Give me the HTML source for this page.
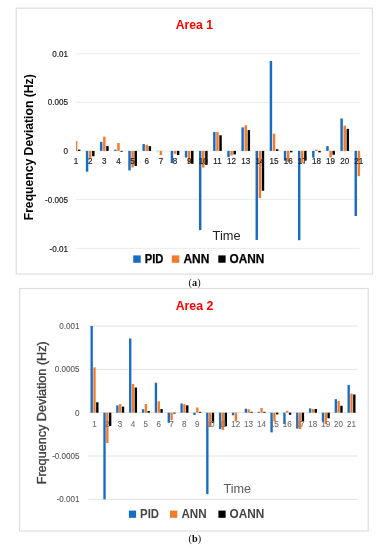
<!DOCTYPE html>
<html><head><meta charset="utf-8"><title>Frequency deviation</title>
<style>html,body{margin:0;padding:0;background:#fff}svg{display:block}text{font-family:"Liberation Sans",sans-serif}.ser{font-family:"Liberation Serif",serif}</style></head><body>
<svg width="383" height="550" viewBox="0 0 383 550">
<rect width="383" height="550" fill="#fff"/>
<rect x="16.2" y="8.2" width="356.3" height="265.9" fill="#fff" stroke="#dedede" stroke-width="1.2"/>
<clipPath id="cp1"><rect x="75.9" y="40" width="284.3" height="225"/></clipPath>
<line x1="75.8" x2="359.5" y1="53.8" y2="53.8" stroke="#e9e9e9" stroke-width="0.9"/>
<text transform="translate(68,56.9) scale(0.86,1)" font-size="9.4" text-anchor="end" fill="#222" stroke="#222" stroke-width="0.2">0.01</text>
<line x1="75.8" x2="359.5" y1="102.35" y2="102.35" stroke="#e9e9e9" stroke-width="0.9"/>
<text transform="translate(68,105.45) scale(0.86,1)" font-size="9.4" text-anchor="end" fill="#222" stroke="#222" stroke-width="0.2">0.005</text>
<line x1="75.8" x2="359.5" y1="150.9" y2="150.9" stroke="#e9e9e9" stroke-width="0.9"/>
<text transform="translate(68,154) scale(0.86,1)" font-size="9.4" text-anchor="end" fill="#222" stroke="#222" stroke-width="0.2">0</text>
<line x1="75.8" x2="359.5" y1="199.45" y2="199.45" stroke="#e9e9e9" stroke-width="0.9"/>
<text transform="translate(68,202.55) scale(0.86,1)" font-size="9.4" text-anchor="end" fill="#222" stroke="#222" stroke-width="0.2">-0.005</text>
<line x1="75.8" x2="359.5" y1="248.4" y2="248.4" stroke="#e9e9e9" stroke-width="0.9"/>
<text transform="translate(68,251.5) scale(0.86,1)" font-size="9.4" text-anchor="end" fill="#222" stroke="#222" stroke-width="0.2">-0.01</text>
<g clip-path="url(#cp1)">
<rect x="74.82" y="141" width="2.45" height="9.9" fill="#f47b2b"/>
<rect x="77.92" y="149.64" width="2.45" height="1.26" fill="#000000"/>
<rect x="85.86" y="150.9" width="2.45" height="20.78" fill="#176cc6"/>
<rect x="88.96" y="150.9" width="2.45" height="6.99" fill="#f47b2b"/>
<rect x="92.06" y="150.9" width="2.45" height="5.34" fill="#000000"/>
<rect x="100" y="141.87" width="2.45" height="9.03" fill="#176cc6"/>
<rect x="103.1" y="136.63" width="2.45" height="14.27" fill="#f47b2b"/>
<rect x="106.2" y="146.05" width="2.45" height="4.86" fill="#000000"/>
<rect x="114.14" y="149.64" width="2.45" height="1.26" fill="#176cc6"/>
<rect x="117.24" y="143.03" width="2.45" height="7.87" fill="#f47b2b"/>
<rect x="120.34" y="150.9" width="2.45" height="0.78" fill="#000000"/>
<rect x="128.28" y="150.9" width="2.45" height="19.52" fill="#176cc6"/>
<rect x="131.38" y="150.9" width="2.45" height="16.51" fill="#f47b2b"/>
<rect x="134.48" y="150.9" width="2.45" height="15.05" fill="#000000"/>
<rect x="142.42" y="144.1" width="2.45" height="6.8" fill="#176cc6"/>
<rect x="145.52" y="144.69" width="2.45" height="6.21" fill="#f47b2b"/>
<rect x="148.62" y="146.14" width="2.45" height="4.76" fill="#000000"/>
<rect x="156.56" y="150.9" width="2.45" height="0.29" fill="#176cc6"/>
<rect x="159.66" y="150.9" width="2.45" height="4.18" fill="#f47b2b"/>
<rect x="170.7" y="150.9" width="2.45" height="12.23" fill="#176cc6"/>
<rect x="173.8" y="150.9" width="2.45" height="2.91" fill="#f47b2b"/>
<rect x="176.9" y="150.9" width="2.45" height="4.18" fill="#000000"/>
<rect x="184.84" y="150.9" width="2.45" height="6.7" fill="#176cc6"/>
<rect x="187.94" y="150.9" width="2.45" height="11.85" fill="#f47b2b"/>
<rect x="191.04" y="150.9" width="2.45" height="12.91" fill="#000000"/>
<rect x="198.98" y="150.9" width="2.45" height="79.23" fill="#176cc6"/>
<rect x="202.08" y="150.9" width="2.45" height="16.6" fill="#f47b2b"/>
<rect x="205.18" y="150.9" width="2.45" height="13.98" fill="#000000"/>
<rect x="213.12" y="131.97" width="2.45" height="18.93" fill="#176cc6"/>
<rect x="216.22" y="131.97" width="2.45" height="18.93" fill="#f47b2b"/>
<rect x="219.32" y="135.27" width="2.45" height="15.63" fill="#000000"/>
<rect x="227.26" y="150.9" width="2.45" height="6.21" fill="#176cc6"/>
<rect x="230.36" y="150.9" width="2.45" height="4.56" fill="#f47b2b"/>
<rect x="233.46" y="150.9" width="2.45" height="3.5" fill="#000000"/>
<rect x="241.4" y="127.4" width="2.45" height="23.5" fill="#176cc6"/>
<rect x="244.5" y="125.27" width="2.45" height="25.63" fill="#f47b2b"/>
<rect x="247.6" y="130.12" width="2.45" height="20.78" fill="#000000"/>
<rect x="255.54" y="150.9" width="2.45" height="89.04" fill="#176cc6"/>
<rect x="258.64" y="150.9" width="2.45" height="47.29" fill="#f47b2b"/>
<rect x="261.74" y="150.9" width="2.45" height="39.81" fill="#000000"/>
<rect x="269.68" y="60.99" width="2.45" height="89.91" fill="#176cc6"/>
<rect x="272.78" y="133.62" width="2.45" height="17.28" fill="#f47b2b"/>
<rect x="275.88" y="149.25" width="2.45" height="1.65" fill="#000000"/>
<rect x="283.82" y="150.9" width="2.45" height="9.71" fill="#176cc6"/>
<rect x="286.92" y="150.9" width="2.45" height="10.78" fill="#f47b2b"/>
<rect x="290.02" y="150.9" width="2.45" height="1.46" fill="#000000"/>
<rect x="297.96" y="150.9" width="2.45" height="89.33" fill="#176cc6"/>
<rect x="301.06" y="150.9" width="2.45" height="11.85" fill="#f47b2b"/>
<rect x="304.16" y="150.9" width="2.45" height="9.71" fill="#000000"/>
<rect x="312.1" y="150.9" width="2.45" height="6.7" fill="#176cc6"/>
<rect x="315.2" y="149.64" width="2.45" height="1.26" fill="#f47b2b"/>
<rect x="318.3" y="150.9" width="2.45" height="1.46" fill="#000000"/>
<rect x="326.24" y="146.14" width="2.45" height="4.76" fill="#176cc6"/>
<rect x="329.34" y="150.9" width="2.45" height="6.51" fill="#f47b2b"/>
<rect x="332.44" y="150.9" width="2.45" height="3.88" fill="#000000"/>
<rect x="340.38" y="118.47" width="2.45" height="32.43" fill="#176cc6"/>
<rect x="343.48" y="125.65" width="2.45" height="25.25" fill="#f47b2b"/>
<rect x="346.58" y="128.86" width="2.45" height="22.04" fill="#000000"/>
<rect x="354.52" y="150.9" width="2.45" height="65.06" fill="#176cc6"/>
<rect x="357.62" y="150.9" width="2.45" height="25.25" fill="#f47b2b"/>
<rect x="360.72" y="150.9" width="2.45" height="19.42" fill="#000000"/>
</g>
<text transform="translate(76.04,164.2) scale(0.86,1)" font-size="9.4" text-anchor="middle" fill="#222" stroke="#222" stroke-width="0.2">1</text>
<text transform="translate(90.18,164.2) scale(0.86,1)" font-size="9.4" text-anchor="middle" fill="#222" stroke="#222" stroke-width="0.2">2</text>
<text transform="translate(104.32,164.2) scale(0.86,1)" font-size="9.4" text-anchor="middle" fill="#222" stroke="#222" stroke-width="0.2">3</text>
<text transform="translate(118.46,164.2) scale(0.86,1)" font-size="9.4" text-anchor="middle" fill="#222" stroke="#222" stroke-width="0.2">4</text>
<text transform="translate(132.6,164.2) scale(0.86,1)" font-size="9.4" text-anchor="middle" fill="#222" stroke="#222" stroke-width="0.2">5</text>
<text transform="translate(146.74,164.2) scale(0.86,1)" font-size="9.4" text-anchor="middle" fill="#222" stroke="#222" stroke-width="0.2">6</text>
<text transform="translate(160.88,164.2) scale(0.86,1)" font-size="9.4" text-anchor="middle" fill="#222" stroke="#222" stroke-width="0.2">7</text>
<text transform="translate(175.02,164.2) scale(0.86,1)" font-size="9.4" text-anchor="middle" fill="#222" stroke="#222" stroke-width="0.2">8</text>
<text transform="translate(189.16,164.2) scale(0.86,1)" font-size="9.4" text-anchor="middle" fill="#222" stroke="#222" stroke-width="0.2">9</text>
<text transform="translate(203.3,164.2) scale(0.86,1)" font-size="9.4" text-anchor="middle" fill="#222" stroke="#222" stroke-width="0.2">10</text>
<text transform="translate(217.44,164.2) scale(0.86,1)" font-size="9.4" text-anchor="middle" fill="#222" stroke="#222" stroke-width="0.2">11</text>
<text transform="translate(231.58,164.2) scale(0.86,1)" font-size="9.4" text-anchor="middle" fill="#222" stroke="#222" stroke-width="0.2">12</text>
<text transform="translate(245.72,164.2) scale(0.86,1)" font-size="9.4" text-anchor="middle" fill="#222" stroke="#222" stroke-width="0.2">13</text>
<text transform="translate(259.86,164.2) scale(0.86,1)" font-size="9.4" text-anchor="middle" fill="#222" stroke="#222" stroke-width="0.2">14</text>
<text transform="translate(274,164.2) scale(0.86,1)" font-size="9.4" text-anchor="middle" fill="#222" stroke="#222" stroke-width="0.2">15</text>
<text transform="translate(288.14,164.2) scale(0.86,1)" font-size="9.4" text-anchor="middle" fill="#222" stroke="#222" stroke-width="0.2">16</text>
<text transform="translate(302.28,164.2) scale(0.86,1)" font-size="9.4" text-anchor="middle" fill="#222" stroke="#222" stroke-width="0.2">17</text>
<text transform="translate(316.42,164.2) scale(0.86,1)" font-size="9.4" text-anchor="middle" fill="#222" stroke="#222" stroke-width="0.2">18</text>
<text transform="translate(330.56,164.2) scale(0.86,1)" font-size="9.4" text-anchor="middle" fill="#222" stroke="#222" stroke-width="0.2">19</text>
<text transform="translate(344.7,164.2) scale(0.86,1)" font-size="9.4" text-anchor="middle" fill="#222" stroke="#222" stroke-width="0.2">20</text>
<text transform="translate(358.84,164.2) scale(0.86,1)" font-size="9.4" text-anchor="middle" fill="#222" stroke="#222" stroke-width="0.2">21</text>
<text x="194.3" y="28.9" font-size="12.2" font-weight="bold" text-anchor="middle" fill="#ff0000">Area 1</text>
<text transform="translate(33,220.3) rotate(-90)" font-size="12" font-weight="bold" fill="#000" textLength="146" lengthAdjust="spacingAndGlyphs">Frequency Deviation (Hz)</text>
<text x="212.6" y="240" font-size="12.8" fill="#222" textLength="28" lengthAdjust="spacingAndGlyphs">Time</text>
<rect x="133.2" y="255.4" width="7.5" height="7.4" fill="#176cc6"/>
<text x="144.8" y="263.4" font-size="12.2" font-weight="bold" fill="#000" stroke="#000" stroke-width="0.25" textLength="18.6" lengthAdjust="spacingAndGlyphs">PID</text>
<rect x="171.8" y="255.4" width="7.5" height="7.4" fill="#f47b2b"/>
<text x="183.4" y="263.4" font-size="12.2" font-weight="bold" fill="#000" stroke="#000" stroke-width="0.25" textLength="25.9" lengthAdjust="spacingAndGlyphs">ANN</text>
<rect x="218.3" y="255.4" width="7.3" height="7.3" fill="#000000"/>
<text x="229.5" y="263.4" font-size="12.2" font-weight="bold" fill="#000" stroke="#000" stroke-width="0.25" textLength="34.8" lengthAdjust="spacingAndGlyphs">OANN</text>
<text class="ser" x="194.6" y="286" font-size="10.3" text-anchor="middle" fill="#111">(<tspan font-weight="bold">a</tspan>)</text>
<rect x="19.6" y="288.5" width="348.6" height="242.5" fill="#fff" stroke="#dedede" stroke-width="1.2"/>
<line x1="88.5" x2="357.6" y1="326.04" y2="326.04" stroke="#e2e2e2" stroke-width="1"/>
<text transform="translate(79.6,329.14) scale(0.88,1)" font-size="9.2" text-anchor="end" fill="#5a5a5a" stroke="#5a5a5a" stroke-width="0.12">0.001</text>
<line x1="88.5" x2="357.6" y1="369.37" y2="369.37" stroke="#e2e2e2" stroke-width="1"/>
<text transform="translate(79.6,372.47) scale(0.88,1)" font-size="9.2" text-anchor="end" fill="#5a5a5a" stroke="#5a5a5a" stroke-width="0.12">0.0005</text>
<line x1="88.5" x2="357.6" y1="412.7" y2="412.7" stroke="#e2e2e2" stroke-width="1"/>
<text transform="translate(79.6,415.8) scale(0.88,1)" font-size="9.2" text-anchor="end" fill="#5a5a5a" stroke="#5a5a5a" stroke-width="0.12">0</text>
<line x1="88.5" x2="357.6" y1="456.03" y2="456.03" stroke="#e2e2e2" stroke-width="1"/>
<text transform="translate(79.6,459.13) scale(0.88,1)" font-size="9.2" text-anchor="end" fill="#5a5a5a" stroke="#5a5a5a" stroke-width="0.12">-0.0005</text>
<line x1="88.5" x2="357.6" y1="499.36" y2="499.36" stroke="#e2e2e2" stroke-width="1"/>
<text transform="translate(79.6,502.46) scale(0.88,1)" font-size="9.2" text-anchor="end" fill="#5a5a5a" stroke="#5a5a5a" stroke-width="0.12">-0.001</text>
<rect x="90.5" y="326.04" width="2.35" height="86.66" fill="#176cc6"/>
<rect x="93.32" y="367.38" width="2.35" height="45.32" fill="#f47b2b"/>
<rect x="96.14" y="402.3" width="2.35" height="10.4" fill="#000000"/>
<rect x="103.35" y="412.7" width="2.35" height="86.66" fill="#176cc6"/>
<rect x="106.17" y="412.7" width="2.35" height="30.33" fill="#f47b2b"/>
<rect x="108.99" y="412.7" width="2.35" height="13.35" fill="#000000"/>
<rect x="116.2" y="405.33" width="2.35" height="7.37" fill="#176cc6"/>
<rect x="119.02" y="404.03" width="2.35" height="8.67" fill="#f47b2b"/>
<rect x="121.84" y="406.63" width="2.35" height="6.07" fill="#000000"/>
<rect x="129.05" y="338.43" width="2.35" height="74.27" fill="#176cc6"/>
<rect x="131.87" y="384.1" width="2.35" height="28.6" fill="#f47b2b"/>
<rect x="134.69" y="387.57" width="2.35" height="25.13" fill="#000000"/>
<rect x="141.9" y="409.23" width="2.35" height="3.47" fill="#176cc6"/>
<rect x="144.72" y="404.03" width="2.35" height="8.67" fill="#f47b2b"/>
<rect x="147.54" y="410.97" width="2.35" height="1.73" fill="#000000"/>
<rect x="154.75" y="382.72" width="2.35" height="29.98" fill="#176cc6"/>
<rect x="157.57" y="401.26" width="2.35" height="11.44" fill="#f47b2b"/>
<rect x="160.39" y="409.06" width="2.35" height="3.64" fill="#000000"/>
<rect x="167.6" y="412.7" width="2.35" height="10.14" fill="#176cc6"/>
<rect x="170.42" y="412.7" width="2.35" height="7.54" fill="#f47b2b"/>
<rect x="173.24" y="412.7" width="2.35" height="0.87" fill="#000000"/>
<rect x="180.45" y="403.43" width="2.35" height="9.27" fill="#176cc6"/>
<rect x="183.27" y="404.21" width="2.35" height="8.49" fill="#f47b2b"/>
<rect x="186.09" y="405.33" width="2.35" height="7.37" fill="#000000"/>
<rect x="193.3" y="412.7" width="2.35" height="2.34" fill="#176cc6"/>
<rect x="196.12" y="407.5" width="2.35" height="5.2" fill="#f47b2b"/>
<rect x="198.94" y="411.83" width="2.35" height="0.87" fill="#000000"/>
<rect x="206.15" y="412.7" width="2.35" height="81.46" fill="#176cc6"/>
<rect x="208.97" y="412.7" width="2.35" height="14.39" fill="#f47b2b"/>
<rect x="211.79" y="412.7" width="2.35" height="10.14" fill="#000000"/>
<rect x="219" y="412.7" width="2.35" height="16.47" fill="#176cc6"/>
<rect x="221.82" y="412.7" width="2.35" height="17.33" fill="#f47b2b"/>
<rect x="224.64" y="412.7" width="2.35" height="13.35" fill="#000000"/>
<rect x="231.85" y="412.7" width="2.35" height="2.6" fill="#176cc6"/>
<rect x="234.67" y="412.7" width="2.35" height="8.67" fill="#f47b2b"/>
<rect x="244.7" y="408.71" width="2.35" height="3.99" fill="#176cc6"/>
<rect x="247.52" y="409.23" width="2.35" height="3.47" fill="#f47b2b"/>
<rect x="250.34" y="411.83" width="2.35" height="0.87" fill="#000000"/>
<rect x="257.55" y="411.83" width="2.35" height="0.87" fill="#176cc6"/>
<rect x="260.37" y="408.02" width="2.35" height="4.68" fill="#f47b2b"/>
<rect x="263.19" y="411.83" width="2.35" height="0.87" fill="#000000"/>
<rect x="270.4" y="412.7" width="2.35" height="19.67" fill="#176cc6"/>
<rect x="273.22" y="412.7" width="2.35" height="8.67" fill="#f47b2b"/>
<rect x="276.04" y="412.7" width="2.35" height="1.73" fill="#000000"/>
<rect x="283.25" y="412.7" width="2.35" height="11.27" fill="#176cc6"/>
<rect x="286.07" y="410.79" width="2.35" height="1.91" fill="#f47b2b"/>
<rect x="288.89" y="412.7" width="2.35" height="2.08" fill="#000000"/>
<rect x="296.1" y="412.7" width="2.35" height="15.95" fill="#176cc6"/>
<rect x="298.92" y="412.7" width="2.35" height="16.47" fill="#f47b2b"/>
<rect x="301.74" y="412.7" width="2.35" height="8.67" fill="#000000"/>
<rect x="308.95" y="408.37" width="2.35" height="4.33" fill="#176cc6"/>
<rect x="311.77" y="408.97" width="2.35" height="3.73" fill="#f47b2b"/>
<rect x="314.59" y="408.97" width="2.35" height="3.73" fill="#000000"/>
<rect x="321.8" y="412.7" width="2.35" height="9.1" fill="#176cc6"/>
<rect x="324.62" y="412.7" width="2.35" height="11.53" fill="#f47b2b"/>
<rect x="327.44" y="412.7" width="2.35" height="5.63" fill="#000000"/>
<rect x="334.65" y="399.18" width="2.35" height="13.52" fill="#176cc6"/>
<rect x="337.47" y="400.91" width="2.35" height="11.79" fill="#f47b2b"/>
<rect x="340.29" y="405.77" width="2.35" height="6.93" fill="#000000"/>
<rect x="347.5" y="384.97" width="2.35" height="27.73" fill="#176cc6"/>
<rect x="350.32" y="393.63" width="2.35" height="19.07" fill="#f47b2b"/>
<rect x="353.14" y="394.5" width="2.35" height="18.2" fill="#000000"/>
<text transform="translate(94.4,427) scale(0.88,1)" font-size="9.2" text-anchor="middle" fill="#707070" stroke="#707070" stroke-width="0.12">1</text>
<text transform="translate(107.25,427) scale(0.88,1)" font-size="9.2" text-anchor="middle" fill="#707070" stroke="#707070" stroke-width="0.12">2</text>
<text transform="translate(120.1,427) scale(0.88,1)" font-size="9.2" text-anchor="middle" fill="#707070" stroke="#707070" stroke-width="0.12">3</text>
<text transform="translate(132.95,427) scale(0.88,1)" font-size="9.2" text-anchor="middle" fill="#707070" stroke="#707070" stroke-width="0.12">4</text>
<text transform="translate(145.8,427) scale(0.88,1)" font-size="9.2" text-anchor="middle" fill="#707070" stroke="#707070" stroke-width="0.12">5</text>
<text transform="translate(158.65,427) scale(0.88,1)" font-size="9.2" text-anchor="middle" fill="#707070" stroke="#707070" stroke-width="0.12">6</text>
<text transform="translate(171.5,427) scale(0.88,1)" font-size="9.2" text-anchor="middle" fill="#707070" stroke="#707070" stroke-width="0.12">7</text>
<text transform="translate(184.35,427) scale(0.88,1)" font-size="9.2" text-anchor="middle" fill="#707070" stroke="#707070" stroke-width="0.12">8</text>
<text transform="translate(197.2,427) scale(0.88,1)" font-size="9.2" text-anchor="middle" fill="#707070" stroke="#707070" stroke-width="0.12">9</text>
<text transform="translate(210.05,427) scale(0.88,1)" font-size="9.2" text-anchor="middle" fill="#707070" stroke="#707070" stroke-width="0.12">10</text>
<text transform="translate(222.9,427) scale(0.88,1)" font-size="9.2" text-anchor="middle" fill="#707070" stroke="#707070" stroke-width="0.12">11</text>
<text transform="translate(235.75,427) scale(0.88,1)" font-size="9.2" text-anchor="middle" fill="#707070" stroke="#707070" stroke-width="0.12">12</text>
<text transform="translate(248.6,427) scale(0.88,1)" font-size="9.2" text-anchor="middle" fill="#707070" stroke="#707070" stroke-width="0.12">13</text>
<text transform="translate(261.45,427) scale(0.88,1)" font-size="9.2" text-anchor="middle" fill="#707070" stroke="#707070" stroke-width="0.12">14</text>
<text transform="translate(274.3,427) scale(0.88,1)" font-size="9.2" text-anchor="middle" fill="#707070" stroke="#707070" stroke-width="0.12">15</text>
<text transform="translate(287.15,427) scale(0.88,1)" font-size="9.2" text-anchor="middle" fill="#707070" stroke="#707070" stroke-width="0.12">16</text>
<text transform="translate(300,427) scale(0.88,1)" font-size="9.2" text-anchor="middle" fill="#707070" stroke="#707070" stroke-width="0.12">17</text>
<text transform="translate(312.85,427) scale(0.88,1)" font-size="9.2" text-anchor="middle" fill="#707070" stroke="#707070" stroke-width="0.12">18</text>
<text transform="translate(325.7,427) scale(0.88,1)" font-size="9.2" text-anchor="middle" fill="#707070" stroke="#707070" stroke-width="0.12">19</text>
<text transform="translate(338.55,427) scale(0.88,1)" font-size="9.2" text-anchor="middle" fill="#707070" stroke="#707070" stroke-width="0.12">20</text>
<text transform="translate(351.4,427) scale(0.88,1)" font-size="9.2" text-anchor="middle" fill="#707070" stroke="#707070" stroke-width="0.12">21</text>
<text x="194.5" y="309.6" font-size="12.3" font-weight="bold" text-anchor="middle" fill="#ff0000">Area 2</text>
<text transform="translate(46,484.3) rotate(-90)" font-size="12.5" fill="#404040" stroke="#404040" stroke-width="0.35" textLength="143" lengthAdjust="spacingAndGlyphs">Frequency Deviation (Hz)</text>
<text x="223.4" y="492.7" font-size="13.1" fill="#5c5c5c" textLength="27.7" lengthAdjust="spacingAndGlyphs">Time</text>
<rect x="128.9" y="510.6" width="7.2" height="7.2" fill="#176cc6"/>
<text x="140.1" y="518.2" font-size="12.2" font-weight="bold" fill="#444" textLength="19" lengthAdjust="spacingAndGlyphs">PID</text>
<rect x="170" y="510.6" width="7.3" height="7.2" fill="#f47b2b"/>
<text x="181.4" y="518.2" font-size="12.2" font-weight="bold" fill="#444" textLength="25.2" lengthAdjust="spacingAndGlyphs">ANN</text>
<rect x="218.4" y="510.6" width="7.2" height="7.2" fill="#000000"/>
<text x="229.6" y="518.2" font-size="12.2" font-weight="bold" fill="#444" textLength="34.8" lengthAdjust="spacingAndGlyphs">OANN</text>
<text class="ser" x="194.8" y="541.8" font-size="10.3" text-anchor="middle" fill="#111">(<tspan font-weight="bold">b</tspan>)</text>
</svg></body></html>
